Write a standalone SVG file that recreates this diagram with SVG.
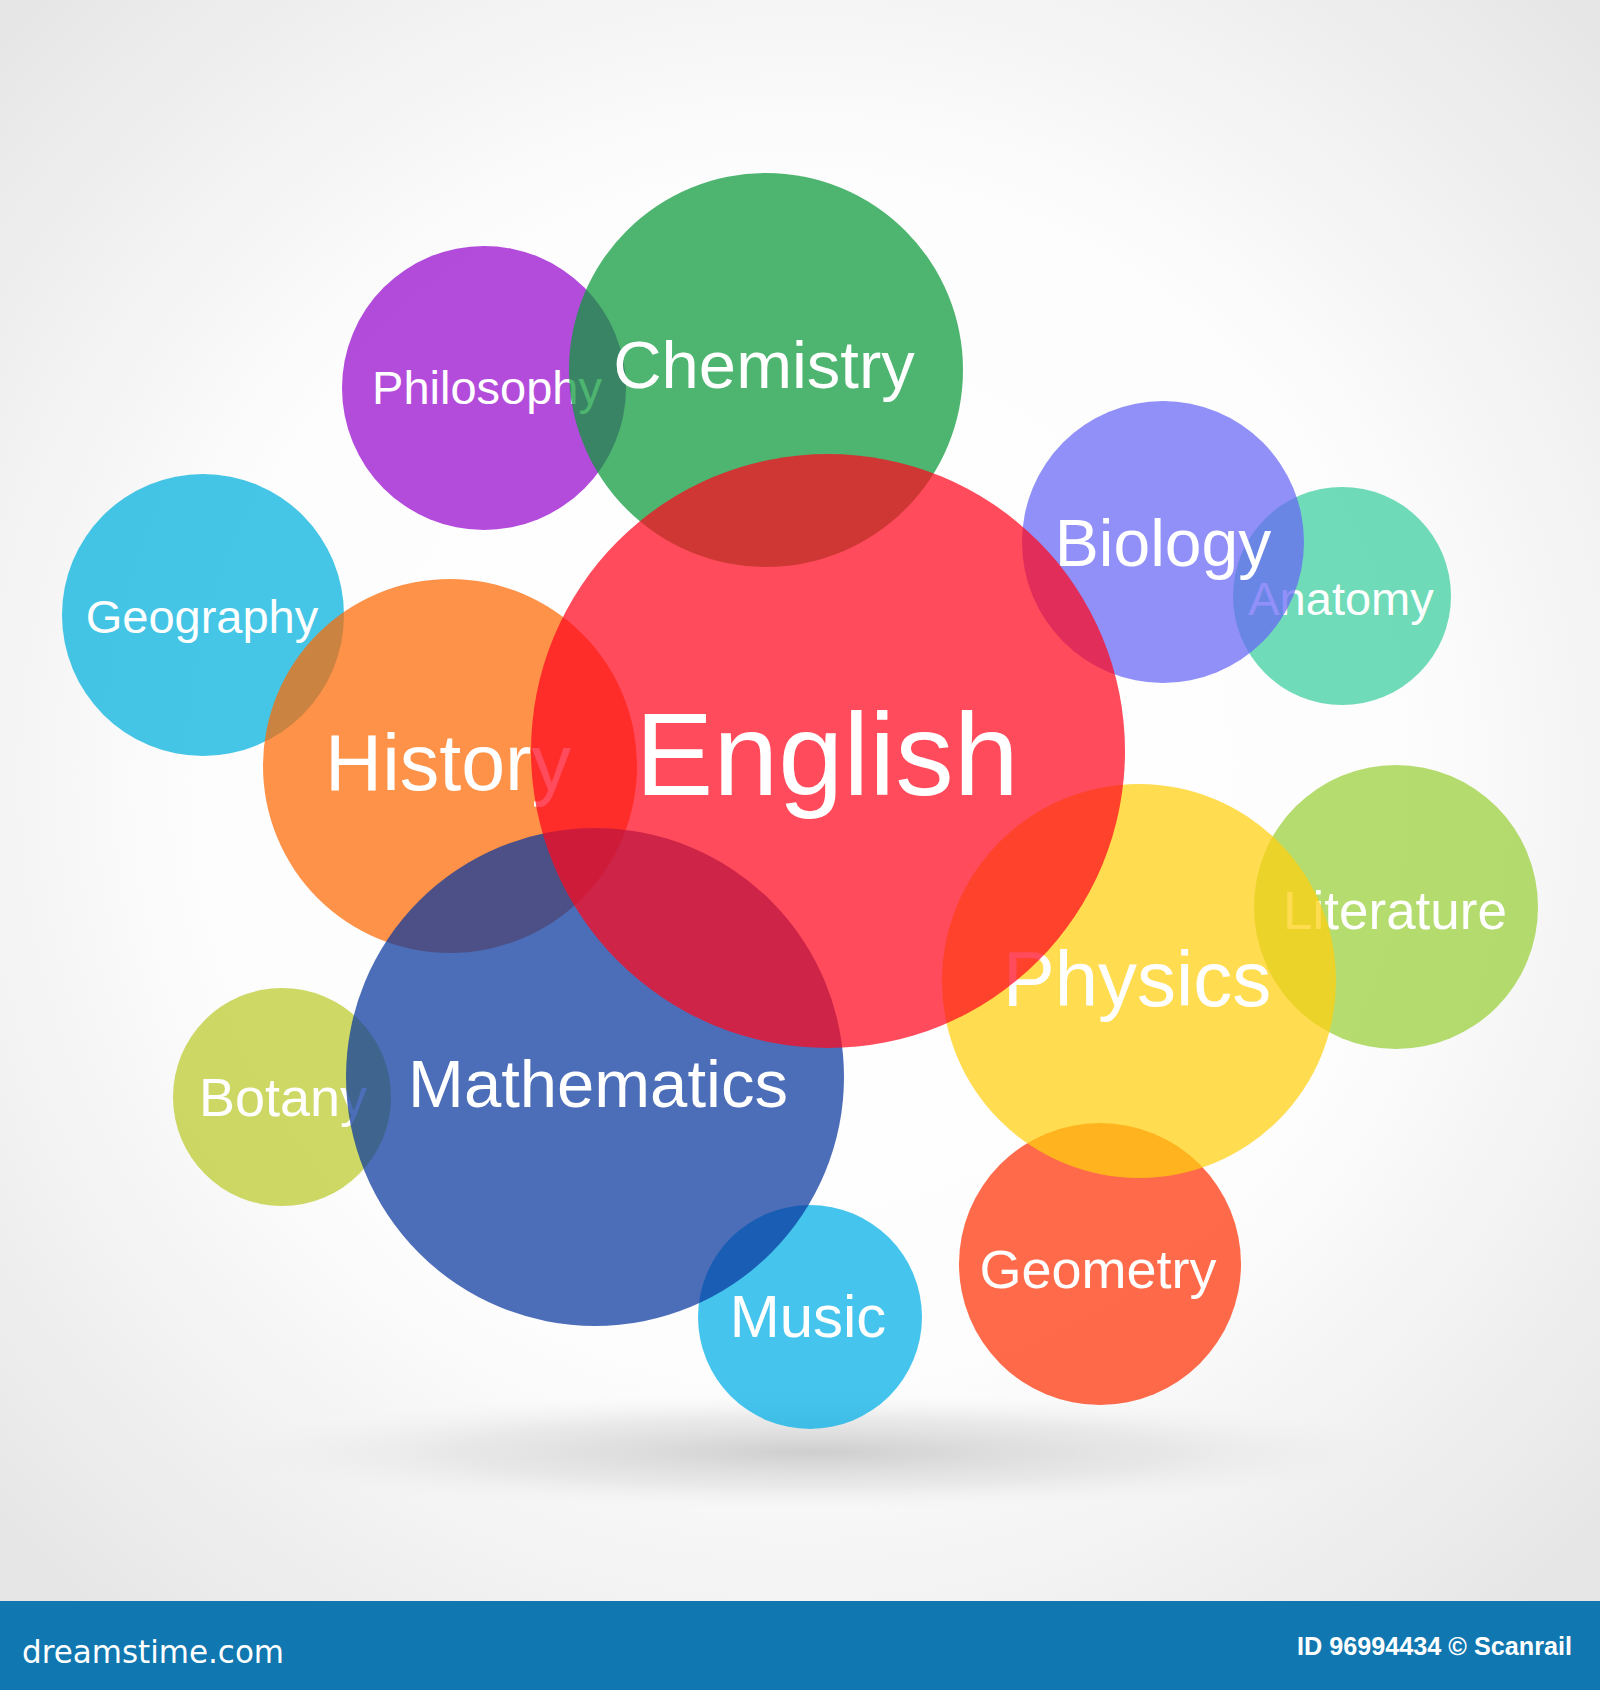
<svg xmlns="http://www.w3.org/2000/svg" width="1600" height="1690" viewBox="0 0 1600 1690">
<defs>
<radialGradient id="bg" cx="800" cy="780" r="1100" gradientUnits="userSpaceOnUse">
<stop offset="0" stop-color="#ffffff"/>
<stop offset="0.55" stop-color="#fdfdfd"/>
<stop offset="1" stop-color="#e6e6e6"/>
</radialGradient>
<radialGradient id="shadow" cx="0.5" cy="0.5" r="0.5">
<stop offset="0" stop-color="#c9c9c9" stop-opacity="0.9"/>
<stop offset="0.6" stop-color="#dadada" stop-opacity="0.5"/>
<stop offset="1" stop-color="#eeeeee" stop-opacity="0"/>
</radialGradient>
<style>
.c{fill-opacity:0.73}
.t{fill:#ffffff;font-family:"Liberation Sans",Arial,sans-serif;text-anchor:middle}
</style>
</defs>
<rect x="0" y="0" width="1600" height="1690" fill="url(#bg)"/>
<ellipse cx="812" cy="1452" rx="600" ry="58" fill="url(#shadow)"/>

<g id="philosophy">
<circle class="c" cx="484" cy="388" r="142" fill="#9809ce"/>
<text class="t" x="487" y="404" font-size="47">Philosophy</text>
</g>
<g id="chemistry">
<circle class="c" cx="766" cy="370" r="197" fill="#0b9a3a"/>
<text class="t" x="764" y="388" font-size="67">Chemistry</text>
</g>
<g id="geography">
<circle class="c" cx="203" cy="615" r="141" fill="#00b1dd"/>
<text class="t" x="202" y="633" font-size="47">Geography</text>
</g>
<g id="history">
<circle class="c" cx="450" cy="766" r="187" fill="#fe6a04"/>
<text class="t" x="448" y="790" font-size="79">History</text>
</g>
<g id="music">
<circle class="c" cx="810" cy="1317" r="112" fill="#00b0e8"/>
<text class="t" x="808" y="1337" font-size="60">Music</text>
</g>
<g id="botany">
<circle class="c" cx="282" cy="1097" r="109" fill="#baca2c"/>
<text class="t" x="283" y="1116" font-size="54">Botany</text>
</g>
<g id="mathematics">
<circle class="c" cx="595" cy="1077" r="249" fill="#0a389e"/>
<text class="t" x="598" y="1107" font-size="67">Mathematics</text>
</g>
<g id="anatomy">
<circle class="c" cx="1342" cy="596" r="109" fill="#3ace9e"/>
<text class="t" x="1341" y="615" font-size="47">Anatomy</text>
</g>
<g id="biology">
<circle class="c" cx="1163" cy="542" r="141" fill="#6767f6"/>
<text class="t" x="1163" y="566" font-size="66">Biology</text>
</g>
<g id="literature">
<circle class="c" cx="1396" cy="907" r="142" fill="#9acf38"/>
<text class="t" x="1395" y="929" font-size="53">Literature</text>
</g>
<g id="geometry">
<circle class="c" cx="1100" cy="1264" r="141" fill="#ff3307"/>
<text class="t" x="1098" y="1288" font-size="54">Geometry</text>
</g>
<g id="physics">
<circle class="c" cx="1139" cy="981" r="197" fill="#ffcf0f"/>
<text class="t" x="1137" y="1006" font-size="78">Physics</text>
</g>
<g id="english">
<circle class="c" cx="828" cy="751" r="297" fill="#ff081e"/>
<text class="t" x="827" y="795" font-size="117">English</text>
</g>

<g id="connectors"></g>

<g id="footer">
<rect x="0" y="1601" width="1600" height="89" fill="#1077b0"/>
<text x="22" y="1663" font-family="'DejaVu Sans',sans-serif" font-size="32" fill="#ffffff" textLength="262" lengthAdjust="spacingAndGlyphs">dreamstime.com</text>
<text x="1297" y="1655" font-family="'Liberation Sans',Arial,sans-serif" font-weight="bold" font-size="26" fill="#ffffff" textLength="275" lengthAdjust="spacingAndGlyphs">ID 96994434 © Scanrail</text>
</g>
</svg>
